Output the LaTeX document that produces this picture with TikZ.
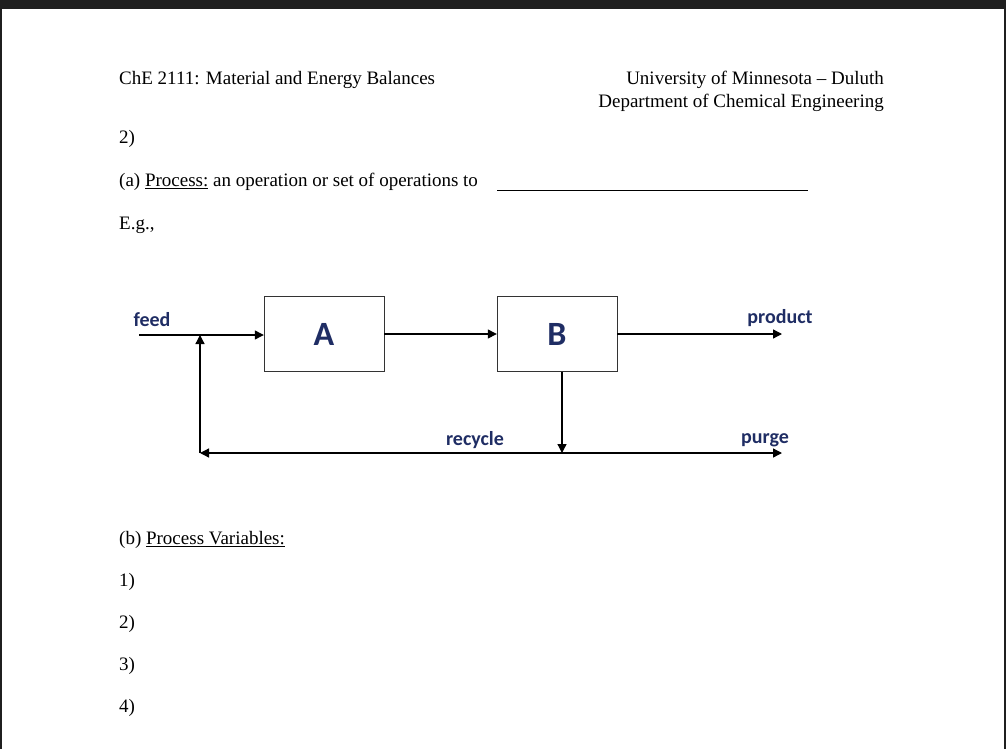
\documentclass[tikz,border=0pt]{standalone}
\usepackage{fontspec}
\setmainfont{Liberation Serif}
\newfontfamily\lab{Carlito}
\usetikzlibrary{arrows.meta}
\definecolor{navy}{HTML}{1F2D64}
\begin{document}
\begin{tikzpicture}[x=1pt,y=-1pt,
  txt/.style={anchor=west,inner sep=0pt,font=\fontsize{19}{22}\selectfont},
  rtxt/.style={anchor=east,inner sep=0pt,font=\fontsize{19}{22}\selectfont},
  lbl/.style={inner sep=0pt,text=navy,font=\lab\bfseries\fontsize{20}{22}\selectfont},
  unit/.style={draw=black!80,minimum width=120pt,minimum height=75pt,inner sep=0pt,text=navy,font=\lab\bfseries\fontsize{34}{36}\selectfont},
  flow/.style={line width=1.3pt,-{Triangle[length=9pt,width=9pt]}}]
\fill[white] (0,0) rectangle (1006,749);
\fill[black!88] (0,0) rectangle (1006,9);
\fill[black!88] (0,9) rectangle (2,749);
\fill[black!88] (1004,9) rectangle (1006,749);
\node[txt] (h1) at (119,80) {ChE 2111: Material and Energy Balances};
\node[rtxt] (h2) at (884,80) {University of Minnesota -- Duluth};
\node[rtxt] (h3) at (884,103) {Department of Chemical Engineering};
\node[txt] (q2) at (119,139) {2)};
\node[txt] (qa) at (119,182) {(a) \underline{Process:} an operation or set of operations to};
\draw[line width=0.8pt] (497,190) -- (808,190);
\node[txt] (eg) at (119,225) {E.g.,};
\node[txt] (qb) at (119,540) {(b) \underline{Process Variables:}};
\node[txt] (n1) at (119,582) {1)};
\node[txt] (n2) at (119,624) {2)};
\node[txt] (n3) at (119,666) {3)};
\node[txt] (n4) at (119,708) {4)};
% diagram
\node[unit] (A) at (324,334) {A};
\node[unit] (B) at (557,334) {B};
\coordinate (fin) at (139,335);
\coordinate (mix) at (200,335);
\coordinate (split) at (562,453);
\coordinate (corner) at (200,453);
\coordinate (prod) at (782,334);
\coordinate (purge) at (782,453);
\draw[flow] (fin) -- (A.west |- fin);
\draw[flow] (A.east) -- (B.west);
\draw[flow] (B.east) -- (prod);
\draw[flow] (B.south -| split) -- (split);
\draw[flow] (split) -- (purge);
\draw[flow] (split) -- (corner);
\draw[flow] (corner) -- (mix);
\node[lbl] (lf) at (152,320) {feed};
\node[lbl] (lp) at (780,318) {product};
\node[lbl] (lr) at (475,440) {recycle};
\node[lbl] (lu) at (765,440) {purge};
\end{tikzpicture}
\end{document}
